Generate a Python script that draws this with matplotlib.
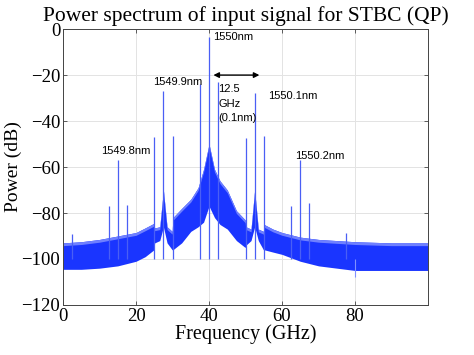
import numpy as np
import matplotlib
matplotlib.use("Agg")
import matplotlib.pyplot as plt

# ---- data ----
# envelope of the dense spectrum (upper / lower edge), GHz vs dB
env_freq = [0, 5, 10, 15, 20, 22.5, 24.9, 25.1, 26.5, 27.5, 28.5, 29.9,
            30.1, 32.5, 35, 37, 38.5, 40, 41.5, 43, 45, 47.5, 49.9,
            50.1, 51.5, 52.5, 53.5, 54.9, 55.1, 57.5, 60, 65, 70, 80, 90, 100]
env_top = [-93, -92.5, -91.5, -90, -88.5, -86.5, -84.5, -86.5, -86, -70, -86, -88,
           -82, -78, -74, -69, -61, -50, -61, -66, -70, -79, -83,
           -86, -87, -70, -87, -88, -85, -87, -88.5, -90.5, -91.5, -92.5, -93, -93]
env_bot = [-104.5, -104.5, -104, -103, -101, -99, -96, -93, -92, -86, -93, -96,
           -96, -93, -88, -86, -84, -77, -82, -85, -87, -92, -95,
           -94, -92, -86, -92, -96, -96, -97, -98, -101, -103, -105, -105, -105]

# discrete carriers / mixing products
line_freq = [2.5, 12.5, 15, 17.5, 25, 27.5, 30, 37.5, 40, 42.5,
             50, 52.5, 55, 62.5, 65, 67.5, 77.5]
line_peak = [-89, -77, -57, -76.5, -47, -27, -46.5, -24, -3.5, -23,
             -47.5, -28, -46.5, -77, -57, -75.5, -88.5]

# labels on the peaks: (x, y, text)
peak_labels = [(41.1, -3.5, "1550nm"),
               (24.7, -23, "1549.9nm"),
               (56.2, -29, "1550.1nm"),
               (10.4, -53, "1549.8nm"),
               (63.6, -55, "1550.2nm")]
spacing_text = "12.5\nGHz\n(0.1nm)"

xticks = [0, 20, 40, 60, 80]
yticks = [-120, -100, -80, -60, -40, -20, 0]

serif = "Liberation Serif"
sans = "Liberation Sans"

fig = plt.figure(figsize=(4.74, 3.55), dpi=100)
ax = fig.add_axes([0.133, 0.141, 0.770, 0.777])

blue = "#1a35ff"
ax.fill_between(env_freq, env_bot, env_top, color=blue, lw=0, zorder=2)
# lighter fringe along the upper edge
ax.fill_between(env_freq, np.array(env_top) - 1.2, env_top, color="#6f80ff",
                lw=0, zorder=2)
ax.vlines(line_freq, -100, line_peak, color="#4a5ff5", lw=0.9, zorder=3)
ax.vlines([80], -108, -100, color="#8090ff", lw=0.8, zorder=3)

for x, y, s in peak_labels:
    ax.text(x, y, s, fontsize=8, family=sans, va="center", ha="left", zorder=4)
ax.text(42.6, -32.5, spacing_text, fontsize=8, family=sans, va="center",
        ha="left", linespacing=1.55, zorder=4)
ax.annotate("", xy=(41.2, -20), xytext=(53.8, -20),
            arrowprops=dict(arrowstyle="<|-|>", color="black", lw=1.0,
                            mutation_scale=8, shrinkA=0, shrinkB=0), zorder=4)

ax.set_xlim(0, 100)
ax.set_ylim(-120, 0)
ax.set_xticks(xticks)
ax.set_yticks(yticks)
ax.grid(True, color="#e3e3e3", lw=0.7, zorder=0)
ax.set_axisbelow(True)
ax.tick_params(direction="in", top=True, right=True, length=3,
               labelsize=13.5, color="#444444", width=0.6, pad=2)
for lab in ax.get_xticklabels() + ax.get_yticklabels():
    lab.set_family(serif)
for sp in ax.spines.values():
    sp.set_color("#444444")
    sp.set_linewidth(0.7)

ax.set_xlabel("Frequency (GHz)", fontsize=14.5, family=serif, labelpad=0)
ax.set_ylabel("Power (dB)", fontsize=14, family=serif, labelpad=0)
ax.set_title("Power spectrum of input signal for STBC (QP)", fontsize=15.5,
             family=serif, pad=6)

fig.savefig("out.png", dpi=100)
